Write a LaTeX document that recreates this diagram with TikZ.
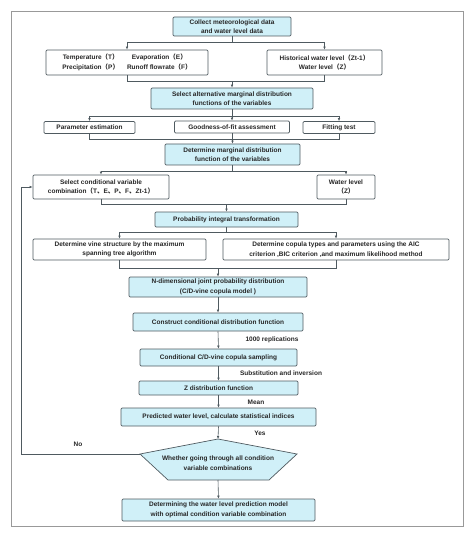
\documentclass[tikz,border=0pt]{standalone}
\usepackage{fontspec}
\setmainfont{Liberation Sans}
\newfontfamily\cjk{Noto Sans CJK SC}
\usetikzlibrary{arrows.meta}
\definecolor{boxfill}{HTML}{D0F0F8}
\definecolor{edge}{HTML}{4F5A60}
\newcommand\lp{{\cjk （}}
\newcommand\rp{{\cjk ）}}
\newcommand\dn{{\cjk 、}}
\begin{document}
\begin{tikzpicture}[x=1pt,y=-1pt,
  box/.style={draw=edge, line width=0.7pt, rounded corners=1.2pt, align=center, inner sep=0pt,
    font=\fontsize{6.5}{9.5}\selectfont\bfseries, text=black!85},
  cbox/.style={box, fill=boxfill},
  wbox/.style={box, fill=white},
  con/.style={draw=edge, line width=0.6pt},
  arr/.style={con, -{Latex[length=3pt,width=2.6pt]}},
  lab/.style={inner sep=0pt, font=\fontsize{6.5}{9.5}\selectfont\bfseries, text=black!85}]
\useasboundingbox (0,0) rectangle (474,537);
\draw[draw=gray!80, line width=0.8pt] (11,11) rectangle (463,526);

\node[cbox, minimum width=118, minimum height=19] (b1) at (232,26.5) {Collect meteorological data\\and water level data};
\node[wbox, minimum width=162, minimum height=25] (b2L) at (127,62.5) {\begin{tabular}{@{}c@{\hspace{8pt}}c@{}}Temperature\lp T\rp & Evaporation\lp E\rp\\Precipitation\lp P\rp & Runoff flowrate\lp F\rp\end{tabular}};
\node[wbox, minimum width=115, minimum height=25] (b2R) at (324.5,62.5) {Historical water level\lp Zt-1\rp\\Water level\lp Z\rp};
\node[cbox, minimum width=162, minimum height=21] (b3) at (232,98.5) {Select alternative marginal distribution\\functions of the variables};
\node[wbox, minimum width=91, minimum height=12] (b4a) at (89.5,127.5) {Parameter estimation};
\node[wbox, minimum width=115, minimum height=12] (b4b) at (232,127) {Goodness-of-fit assessment};
\node[wbox, minimum width=72, minimum height=12] (b4c) at (339,127.5) {Fitting test};
\node[cbox, minimum width=135, minimum height=21] (b5) at (232.5,154.5) {Determine marginal distribution\\function of the variables};
\node[wbox, minimum width=136, minimum height=24] (b6L) at (101,187) {Select conditional variable\\combination\lp T\dn E\dn P\dn F\dn Zt-1\rp};
\node[wbox, minimum width=58, minimum height=24] (b6R) at (346,187) {Water level\\\lp Z\rp};
\node[cbox, minimum width=143, minimum height=15] (b7) at (226.5,219.5) {Probability integral transformation};
\node[wbox, minimum width=173, minimum height=21] (b8L) at (119.5,249.5) {Determine vine structure by the maximum\\spanning tree algorithm};
\node[wbox, minimum width=226, minimum height=21] (b8R) at (336,249.5) {Determine copula types and parameters using the AIC\\criterion ,BIC criterion ,and maximum likelihood method};
\node[cbox, minimum width=178, minimum height=20] (b9) at (218,287) {N-dimensional joint probability distribution\\(C/D-vine copula model )};
\node[cbox, minimum width=170, minimum height=18] (b10) at (218,322) {Construct conditional distribution function};
\node[cbox, minimum width=157, minimum height=17] (b11) at (218.5,357.5) {Conditional C/D-vine copula sampling};
\node[cbox, minimum width=159, minimum height=14] (b12) at (218.5,388) {Z distribution function};
\node[cbox, minimum width=195, minimum height=18] (b13) at (218.5,417) {Predicted water level, calculate statistical indices};
\coordinate (dT) at (218,439);
\coordinate (dL) at (140,454);
\coordinate (dR) at (297,454);
\coordinate (dBR) at (269,480);
\coordinate (dBL) at (168,480);
\draw[draw=edge, line width=0.7pt, fill=boxfill] (dT) -- (dR) -- (dBR) -- (dBL) -- (dL) -- cycle;
\node[lab, align=center] (dec) at (218,463) {Whether going through all condition\\variable combinations};
\node[cbox, minimum width=193, minimum height=22] (b14) at (218.5,510) {Determining the water level prediction model\\with optimal condition variable combination};

\node[lab] (l1) at (272,340) {1000 replications};
\node[lab] (l2) at (281,373) {Substitution and inversion};
\node[lab] (l3) at (256,402) {Mean};
\node[lab] (l4) at (260,433) {Yes};
\node[lab] (l5) at (78,444) {No};

% b1 -> b2
\draw[con] (b1.south) -- (b1.south |- 0,42);
\draw[con] (b2L.north |- 0,42) -- (b2R.north |- 0,42);
\draw[arr] (b2L.north |- 0,42) -- (b2L.north);
\draw[arr] (b2R.north |- 0,42) -- (b2R.north);
% b2 -> b3
\draw[con] (b2L.south) -- (b2L.south |- 0,81) -- (b2R.south |- 0,81) -- (b2R.south);
\draw[arr] (b3.north |- 0,81) -- (b3.north);
% b3 -> b4
\draw[con] (b3.south) -- (b3.south |- 0,116);
\draw[con] (b4a.north |- 0,116) -- (b4c.north |- 0,116);
\draw[arr] (b4a.north |- 0,116) -- (b4a.north);
\draw[arr] (b4b.north |- 0,116) -- (b4b.north);
\draw[arr] (b4c.north |- 0,116) -- (b4c.north);
% b4 -> b5
\draw[con] (b4a.south) -- (b4a.south |- 0,139) -- (b4c.south |- 0,139) -- (b4c.south);
\draw[con] (b4b.south) -- (b4b.south |- 0,139);
\draw[arr] (b5.north |- 0,139) -- (b5.north);
% b5 -> b6
\draw[con] (b5.south) -- (b5.south |- 0,171);
\draw[con] (b6L.north |- 0,171) -- (b6R.north |- 0,171);
\draw[arr] (b6L.north |- 0,171) -- (b6L.north);
\draw[arr] (b6R.north |- 0,171) -- (b6R.north);
% b6 -> b7
\draw[con] (b6L.south) -- (b6L.south |- 0,204) -- (b6R.south |- 0,204) -- (b6R.south);
\draw[arr] (b7.north |- 0,204) -- (b7.north);
% b7 -> b8
\draw[con] (b7.south) -- (b7.south |- 0,232);
\draw[con] (b8L.north |- 0,232) -- (b8R.north |- 0,232);
\draw[arr] (b8L.north |- 0,232) -- (b8L.north);
\draw[arr] (b8R.north |- 0,232) -- (b8R.north);
% b8 -> b9
\draw[con] (b8L.south) -- (b8L.south |- 0,268) -- (b8R.south |- 0,268) -- (b8R.south);
\draw[arr] (b9.north |- 0,268) -- (b9.north);
% chain
\draw[arr] (b9.south) -- (b10.north);
\draw[arr] (b10.south) -- (b11.north);
\draw[arr] (b11.south) -- (b12.north);
\draw[arr] (b12.south) -- (b13.north);
\draw[arr] (b13.south) -- (dT);
\draw[arr] (dBL -| dT) -- (b14.north);
% loop
\coordinate (lp) at (21,454);
\draw[arr] (dL) -- (lp) -- (lp |- b6L.west) -- (b6L.west);
\end{tikzpicture}
\end{document}
